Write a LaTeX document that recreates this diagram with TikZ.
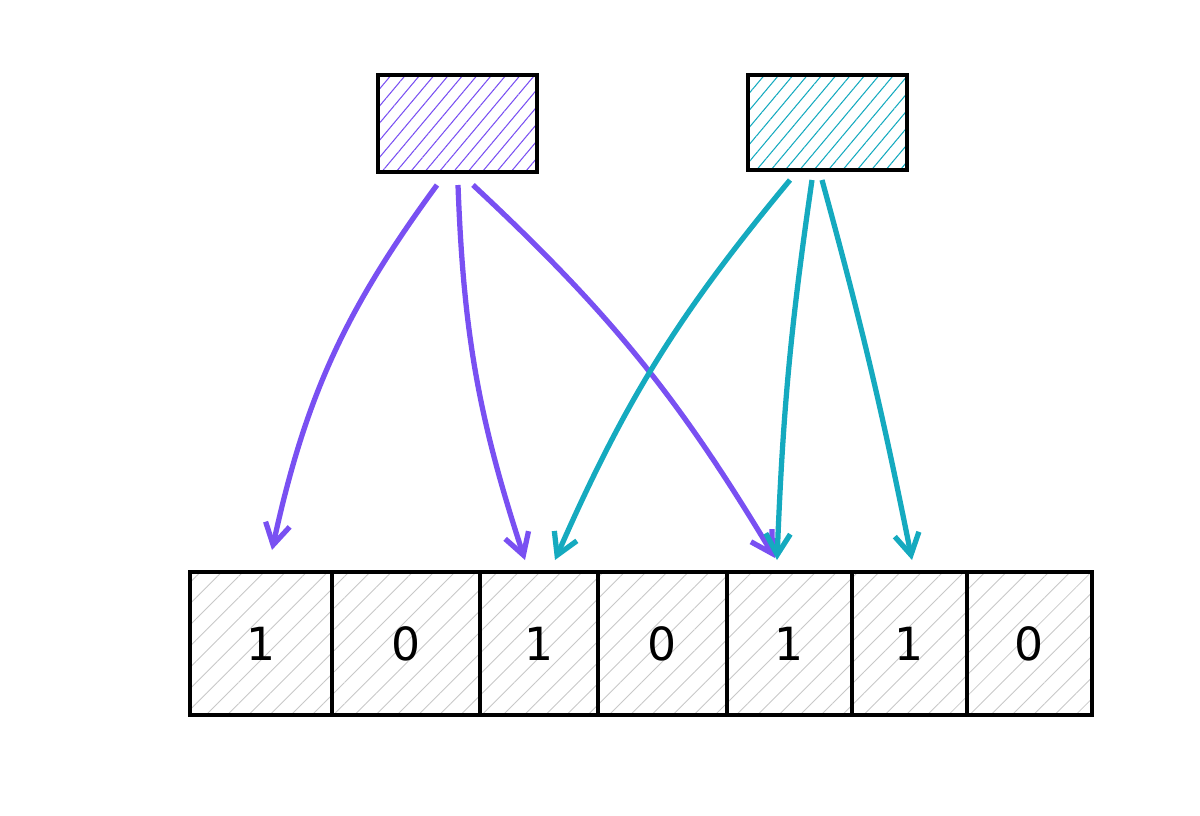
\documentclass[tikz,border=0pt]{standalone}
\usepackage{fontspec}
\setmainfont{DejaVu Sans}
\usetikzlibrary{patterns.meta,arrows.meta}
\definecolor{pur}{HTML}{7950F2}
\definecolor{tea}{HTML}{15AABF}
\definecolor{hgr}{HTML}{C8C8C8}
\begin{document}
\begin{tikzpicture}[x=0.02cm,y=-0.02cm,
  hbox/.style={draw=black,line width=2.2pt,inner sep=0pt,outer sep=0pt,anchor=north west},
  cell/.style={draw=black,line width=2.2pt,pattern={Lines[angle=45,distance=0.3cm,line width=0.5pt]},pattern color=hgr,inner sep=0pt,outer sep=0pt,anchor=north west,minimum height=2.86cm,font=\fontsize{26}{26}\selectfont},
  parr/.style={pur,line width=3pt,-{Straight Barb[length=12pt,width=14pt]}},
  tarr/.style={tea,line width=3pt,-{Straight Barb[length=12pt,width=14pt]}}]
\useasboundingbox (0,0) rectangle (1200,815);
\node[hbox,pattern={Lines[angle=50,distance=0.22cm,line width=0.6pt]},pattern color=pur,minimum width=3.18cm,minimum height=1.94cm] (pb) at (378,75) {};
\node[hbox,pattern={Lines[angle=50,distance=0.22cm,line width=0.6pt]},pattern color=tea,minimum width=3.18cm,minimum height=1.9cm] (tb) at (748,75) {};
\node[cell,minimum width=2.84cm] (c1) at (190,572) {1};
\node[cell,minimum width=2.96cm] (c2) at (c1.north east) {0};
\node[cell,minimum width=2.36cm] (c3) at (c2.north east) {1};
\node[cell,minimum width=2.58cm] (c4) at (c3.north east) {0};
\node[cell,minimum width=2.5cm] (c5) at (c4.north east) {1};
\node[cell,minimum width=2.3cm] (c6) at (c5.north east) {1};
\node[cell,minimum width=2.5cm] (c7) at (c6.north east) {0};
\coordinate (p1) at (437,185); \coordinate (p2) at (458,185); \coordinate (p3) at (473,185);
\coordinate (t1) at (790,180); \coordinate (t2) at (812,180); \coordinate (t3) at (822,180);
\coordinate (e1) at (272,550); \coordinate (e2) at (525,560); \coordinate (e3) at (775,558);
\coordinate (f1) at (555,560); \coordinate (f2) at (777,560); \coordinate (f3) at (912,560);
\draw[parr] (p1) to[bend right=12] (e1);
\draw[parr] (p2) to[bend right=8] (e2);
\draw[parr] (p3) to[bend left=8] (e3);
\draw[tarr] (t1) to[bend right=8] (f1);
\draw[tarr] (t2) to[bend right=3] (f2);
\draw[tarr] (t3) to[bend left=2] (f3);
\end{tikzpicture}
\end{document}
